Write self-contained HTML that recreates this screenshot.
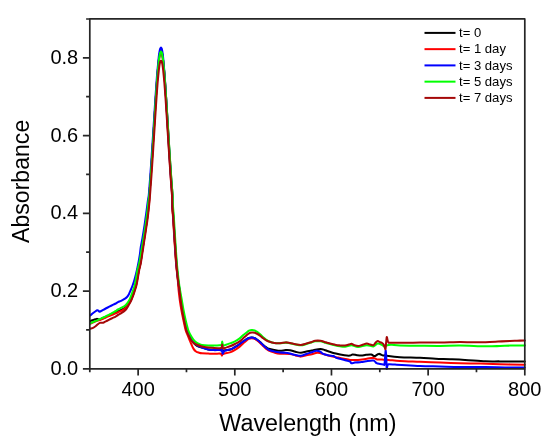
<!DOCTYPE html>
<html><head><meta charset="utf-8"><style>html,body{margin:0;padding:0;background:#fff;width:550px;height:444px;overflow:hidden}svg{display:block}</style></head>
<body><svg width="550" height="444" viewBox="0 0 550 444">
<rect width="550" height="444" fill="#fff"/>
<path d="M90.30,320.90 C90.83,320.73 92.43,320.23 93.50,319.90 C94.57,319.57 95.65,318.98 96.70,318.90 C97.75,318.82 98.62,319.58 99.80,319.40 C100.98,319.22 102.48,318.38 103.80,317.80 C105.12,317.22 106.40,316.53 107.70,315.90 C109.00,315.27 110.28,314.62 111.60,314.00 C112.92,313.38 114.28,312.77 115.60,312.20 C116.92,311.63 118.32,311.10 119.50,310.60 C120.68,310.10 121.62,309.80 122.70,309.20 C123.78,308.60 125.02,307.93 126.00,307.00 C126.98,306.07 127.77,304.83 128.60,303.60 C129.43,302.37 130.27,301.10 131.00,299.60 C131.73,298.10 132.40,296.27 133.00,294.60 C133.60,292.93 134.08,291.27 134.60,289.60 C135.12,287.93 135.62,286.67 136.10,284.60 C136.58,282.53 137.05,279.63 137.50,277.20 C137.95,274.77 138.28,272.53 138.80,270.00 C139.32,267.47 139.93,265.83 140.60,262.00 C141.27,258.17 142.05,252.00 142.80,247.00 C143.55,242.00 144.42,236.50 145.10,232.00 C145.78,227.50 146.40,223.67 146.90,220.00 C147.40,216.33 147.73,213.33 148.10,210.00 C148.47,206.67 148.89,202.50 149.10,200.00 C149.31,197.50 149.18,197.50 149.35,195.00 C149.52,192.50 149.87,188.33 150.12,185.00 C150.37,181.67 150.61,178.33 150.84,175.00 C151.08,171.67 151.26,169.17 151.54,165.00 C151.82,160.83 152.21,155.00 152.53,150.00 C152.85,145.00 153.17,140.00 153.48,135.00 C153.80,130.00 154.14,124.50 154.42,120.00 C154.70,115.50 154.93,111.83 155.17,108.00 C155.42,104.17 155.67,100.33 155.89,97.00 C156.11,93.67 156.30,90.83 156.50,88.00 C156.70,85.17 156.89,82.50 157.08,80.00 C157.27,77.50 157.35,76.13 157.63,73.00 C157.91,69.87 158.49,63.83 158.77,61.20 C159.04,58.57 159.11,58.37 159.28,57.20 C159.45,56.03 159.63,55.00 159.79,54.20 C159.95,53.40 160.04,52.90 160.24,52.40 C160.44,51.90 160.75,51.20 161.00,51.20 C161.25,51.20 161.55,51.90 161.75,52.40 C161.95,52.90 162.03,53.40 162.19,54.20 C162.35,55.00 162.52,56.03 162.69,57.20 C162.86,58.37 162.93,58.57 163.20,61.20 C163.47,63.83 164.04,69.87 164.31,73.00 C164.59,76.13 164.67,77.50 164.86,80.00 C165.04,82.50 165.23,85.17 165.43,88.00 C165.62,90.83 165.81,93.67 166.03,97.00 C166.24,100.33 166.49,104.17 166.73,108.00 C166.97,111.83 167.19,115.50 167.47,120.00 C167.75,124.50 168.08,130.00 168.39,135.00 C168.70,140.00 169.01,145.00 169.33,150.00 C169.65,155.00 170.03,160.83 170.30,165.00 C170.58,169.17 170.75,171.67 170.98,175.00 C171.22,178.33 171.45,181.67 171.70,185.00 C171.94,188.33 172.36,191.67 172.46,195.00 C172.56,198.33 172.16,201.17 172.30,205.00 C172.44,208.83 172.98,213.33 173.30,218.00 C173.62,222.67 173.87,227.67 174.20,233.00 C174.53,238.33 174.92,244.50 175.30,250.00 C175.68,255.50 176.05,261.00 176.50,266.00 C176.95,271.00 177.52,276.00 178.00,280.00 C178.48,284.00 178.95,286.67 179.40,290.00 C179.85,293.33 180.23,296.67 180.70,300.00 C181.17,303.33 181.62,306.67 182.20,310.00 C182.78,313.33 183.48,316.67 184.20,320.00 C184.92,323.33 185.75,327.50 186.50,330.00 C187.25,332.50 187.90,333.33 188.70,335.00 C189.50,336.67 190.42,338.62 191.30,340.00 C192.18,341.38 193.05,342.33 194.00,343.30 C194.95,344.27 195.67,345.08 197.00,345.80 C198.33,346.52 200.13,347.00 202.00,347.60 C203.87,348.20 206.20,349.00 208.20,349.40 C210.20,349.80 212.13,349.92 214.00,350.00 C215.87,350.08 218.15,349.87 219.40,349.90 C220.65,349.93 221.05,350.43 221.50,350.20 C221.95,349.97 221.92,348.28 222.10,348.50 C222.28,348.72 222.38,350.95 222.60,351.50 C222.82,352.05 223.00,352.00 223.40,351.80 C223.80,351.60 223.78,350.70 225.00,350.30 C226.22,349.90 229.03,349.93 230.70,349.40 C232.37,348.87 233.50,347.98 235.00,347.10 C236.50,346.22 238.37,345.00 239.70,344.10 C241.03,343.20 241.90,342.48 243.00,341.70 C244.10,340.92 245.30,340.02 246.30,339.40 C247.30,338.78 248.07,338.30 249.00,338.00 C249.93,337.70 250.95,337.55 251.90,337.60 C252.85,337.65 253.77,337.88 254.70,338.30 C255.63,338.72 256.55,339.42 257.50,340.10 C258.45,340.78 259.45,341.58 260.40,342.40 C261.35,343.22 262.27,344.20 263.20,345.00 C264.13,345.80 265.07,346.57 266.00,347.20 C266.93,347.83 267.40,348.33 268.80,348.80 C270.20,349.27 272.53,349.67 274.40,350.00 C276.27,350.33 278.12,350.78 280.00,350.80 C281.88,350.82 284.03,350.18 285.70,350.10 C287.37,350.02 288.37,350.02 290.00,350.30 C291.63,350.58 293.68,351.38 295.50,351.80 C297.32,352.22 299.08,352.83 300.90,352.80 C302.72,352.77 304.58,351.97 306.40,351.60 C308.22,351.23 310.35,350.92 311.80,350.60 C313.25,350.28 313.65,349.97 315.10,349.70 C316.55,349.43 318.93,348.97 320.50,349.00 C322.07,349.03 323.22,349.53 324.50,349.90 C325.78,350.27 326.32,350.58 328.20,351.20 C330.08,351.82 333.08,352.92 335.80,353.60 C338.52,354.28 342.13,354.97 344.50,355.30 C346.87,355.63 348.65,355.73 350.00,355.60 C351.35,355.47 351.43,354.57 352.60,354.50 C353.77,354.43 355.53,355.03 357.00,355.20 C358.47,355.37 359.90,355.57 361.40,355.50 C362.90,355.43 364.37,354.97 366.00,354.80 C367.63,354.63 369.78,354.28 371.20,354.50 C372.62,354.72 373.23,356.20 374.50,356.10 C375.77,356.00 377.35,354.00 378.80,353.90 C380.25,353.80 382.00,355.28 383.20,355.50 C384.40,355.72 385.10,355.10 386.00,355.20 C386.90,355.30 386.27,355.77 388.60,356.10 C390.93,356.43 394.77,356.92 400.00,357.20 C405.23,357.48 414.08,357.55 420.00,357.80 C425.92,358.05 430.50,358.47 435.50,358.70 C440.50,358.93 445.08,359.00 450.00,359.20 C454.92,359.40 459.08,359.55 465.00,359.90 C470.92,360.25 479.67,361.05 485.50,361.30 C491.33,361.55 493.45,361.37 500.00,361.40 C506.55,361.43 520.67,361.48 524.80,361.50" fill="none" stroke="#000000" stroke-width="2.05" stroke-linejoin="round" stroke-linecap="round"/>
<path d="M90.30,323.60 C90.83,323.38 92.47,322.73 93.50,322.30 C94.53,321.87 95.45,321.37 96.50,321.00 C97.55,320.63 98.58,320.53 99.80,320.10 C101.02,319.67 102.48,318.98 103.80,318.40 C105.12,317.82 106.40,317.17 107.70,316.60 C109.00,316.03 110.28,315.53 111.60,315.00 C112.92,314.47 114.28,313.97 115.60,313.40 C116.92,312.83 118.32,312.13 119.50,311.60 C120.68,311.07 121.62,310.83 122.70,310.20 C123.78,309.57 125.02,308.80 126.00,307.80 C126.98,306.80 127.77,305.50 128.60,304.20 C129.43,302.90 130.27,301.53 131.00,300.00 C131.73,298.47 132.40,296.67 133.00,295.00 C133.60,293.33 134.08,291.67 134.60,290.00 C135.12,288.33 135.62,287.08 136.10,285.00 C136.58,282.92 137.05,280.00 137.50,277.50 C137.95,275.00 138.28,272.58 138.80,270.00 C139.32,267.42 139.92,265.83 140.60,262.00 C141.28,258.17 142.13,252.00 142.90,247.00 C143.67,242.00 144.52,236.50 145.20,232.00 C145.88,227.50 146.48,223.67 147.00,220.00 C147.52,216.33 147.92,213.33 148.30,210.00 C148.68,206.67 149.13,202.50 149.30,200.00 C149.47,197.50 149.21,197.50 149.35,195.00 C149.48,192.50 149.87,188.33 150.12,185.00 C150.37,181.67 150.61,178.33 150.84,175.00 C151.08,171.67 151.26,169.17 151.54,165.00 C151.82,160.83 152.21,155.00 152.53,150.00 C152.85,145.00 153.17,140.00 153.48,135.00 C153.80,130.00 154.14,124.50 154.42,120.00 C154.70,115.50 154.93,111.83 155.17,108.00 C155.42,104.17 155.67,100.33 155.89,97.00 C156.11,93.67 156.30,90.83 156.50,88.00 C156.70,85.17 156.89,82.50 157.08,80.00 C157.27,77.50 157.35,76.13 157.63,73.00 C157.91,69.87 158.49,63.83 158.77,61.20 C159.04,58.57 159.11,58.37 159.28,57.20 C159.45,56.03 159.63,55.00 159.79,54.20 C159.95,53.40 160.04,52.90 160.24,52.40 C160.44,51.90 160.75,51.20 161.00,51.20 C161.25,51.20 161.55,51.90 161.75,52.40 C161.95,52.90 162.03,53.40 162.19,54.20 C162.34,55.00 162.52,56.03 162.68,57.20 C162.85,58.37 162.92,58.57 163.18,61.20 C163.45,63.83 164.00,69.87 164.27,73.00 C164.54,76.13 164.61,77.50 164.79,80.00 C164.97,82.50 165.15,85.17 165.34,88.00 C165.53,90.83 165.71,93.67 165.92,97.00 C166.12,100.33 166.36,104.17 166.59,108.00 C166.82,111.83 167.03,115.50 167.29,120.00 C167.56,124.50 167.88,130.00 168.17,135.00 C168.47,140.00 168.76,145.00 169.07,150.00 C169.37,155.00 169.74,160.83 170.00,165.00 C170.26,169.17 170.43,171.67 170.65,175.00 C170.88,178.33 171.11,181.67 171.34,185.00 C171.58,188.33 171.94,191.67 172.07,195.00 C172.20,198.33 171.93,201.17 172.10,205.00 C172.27,208.83 172.78,213.33 173.10,218.00 C173.42,222.67 173.67,227.67 174.00,233.00 C174.33,238.33 174.72,244.50 175.10,250.00 C175.48,255.50 175.85,261.00 176.30,266.00 C176.75,271.00 177.42,276.00 177.80,280.00 C178.18,284.00 178.27,286.67 178.60,290.00 C178.93,293.33 179.33,296.67 179.80,300.00 C180.27,303.33 180.80,306.67 181.40,310.00 C182.00,313.33 182.70,316.67 183.40,320.00 C184.10,323.33 184.90,327.50 185.60,330.00 C186.30,332.50 186.93,333.33 187.60,335.00 C188.27,336.67 188.98,338.50 189.60,340.00 C190.22,341.50 190.63,342.52 191.30,344.00 C191.97,345.48 192.82,347.65 193.60,348.90 C194.38,350.15 195.10,350.87 196.00,351.50 C196.90,352.13 198.00,352.40 199.00,352.70 C200.00,353.00 200.47,353.15 202.00,353.30 C203.53,353.45 206.20,353.52 208.20,353.60 C210.20,353.68 212.13,353.80 214.00,353.80 C215.87,353.80 218.18,353.58 219.40,353.60 C220.62,353.62 220.88,353.57 221.30,353.90 C221.72,354.23 221.68,355.57 221.90,355.60 C222.12,355.63 222.25,354.42 222.60,354.10 C222.95,353.78 222.65,354.03 224.00,353.70 C225.35,353.37 228.87,352.73 230.70,352.10 C232.53,351.47 233.50,350.82 235.00,349.90 C236.50,348.98 238.37,347.65 239.70,346.60 C241.03,345.55 241.90,344.60 243.00,343.60 C244.10,342.60 245.30,341.40 246.30,340.60 C247.30,339.80 248.07,339.20 249.00,338.80 C249.93,338.40 250.95,338.18 251.90,338.20 C252.85,338.22 253.77,338.48 254.70,338.90 C255.63,339.32 256.55,339.98 257.50,340.70 C258.45,341.42 259.45,342.32 260.40,343.20 C261.35,344.08 262.27,345.10 263.20,346.00 C264.13,346.90 265.07,347.83 266.00,348.60 C266.93,349.37 267.40,349.93 268.80,350.60 C270.20,351.27 272.53,352.08 274.40,352.60 C276.27,353.12 277.40,353.47 280.00,353.70 C282.60,353.93 287.42,353.72 290.00,354.00 C292.58,354.28 293.68,354.97 295.50,355.40 C297.32,355.83 299.08,356.63 300.90,356.60 C302.72,356.57 304.58,355.60 306.40,355.20 C308.22,354.80 310.03,354.60 311.80,354.20 C313.57,353.80 315.55,352.97 317.00,352.80 C318.45,352.63 318.63,352.75 320.50,353.20 C322.37,353.65 325.65,354.83 328.20,355.50 C330.75,356.17 333.83,356.80 335.80,357.20 C337.77,357.60 338.47,357.60 340.00,357.90 C341.53,358.20 343.33,358.67 345.00,359.00 C346.67,359.33 348.55,359.72 350.00,359.90 C351.45,360.08 352.37,360.08 353.70,360.10 C355.03,360.12 355.82,360.22 358.00,360.00 C360.18,359.78 364.23,359.15 366.80,358.80 C369.37,358.45 371.70,357.80 373.40,357.90 C375.10,358.00 375.57,359.12 377.00,359.40 C378.43,359.68 380.07,359.52 382.00,359.60 C383.93,359.68 385.60,359.67 388.60,359.90 C391.60,360.13 394.77,360.68 400.00,361.00 C405.23,361.32 413.33,361.53 420.00,361.80 C426.67,362.07 433.33,362.37 440.00,362.60 C446.67,362.83 453.33,363.03 460.00,363.20 C466.67,363.37 473.33,363.43 480.00,363.60 C486.67,363.77 492.53,364.02 500.00,364.20 C507.47,364.38 520.67,364.62 524.80,364.70" fill="none" stroke="#ff0000" stroke-width="2.05" stroke-linejoin="round" stroke-linecap="round"/>
<path d="M90.30,315.40 C90.83,314.97 92.47,313.60 93.50,312.80 C94.53,312.00 95.83,311.03 96.50,310.60 C97.17,310.17 97.15,310.15 97.50,310.20 C97.85,310.25 98.22,310.63 98.60,310.90 C98.98,311.17 98.93,312.02 99.80,311.80 C100.67,311.58 102.48,310.32 103.80,309.60 C105.12,308.88 106.40,308.18 107.70,307.50 C109.00,306.82 110.28,306.17 111.60,305.50 C112.92,304.83 114.53,304.07 115.60,303.50 C116.67,302.93 117.08,302.55 118.00,302.10 C118.92,301.65 120.02,301.33 121.10,300.80 C122.18,300.27 123.52,299.53 124.50,298.90 C125.48,298.27 126.27,297.78 127.00,297.00 C127.73,296.22 128.30,295.30 128.90,294.20 C129.50,293.10 130.02,291.77 130.60,290.40 C131.18,289.03 131.77,287.73 132.40,286.00 C133.03,284.27 133.78,282.07 134.40,280.00 C135.02,277.93 135.58,275.68 136.10,273.60 C136.62,271.52 137.08,269.43 137.50,267.50 C137.92,265.57 138.22,264.08 138.60,262.00 C138.98,259.92 139.43,257.50 139.80,255.00 C140.17,252.50 140.40,249.58 140.80,247.00 C141.20,244.42 141.75,242.00 142.20,239.50 C142.65,237.00 142.98,235.25 143.50,232.00 C144.02,228.75 144.77,223.67 145.30,220.00 C145.83,216.33 146.25,213.33 146.70,210.00 C147.15,206.67 147.65,202.50 148.00,200.00 C148.35,197.50 148.54,197.50 148.80,195.00 C149.07,192.50 149.34,188.33 149.60,185.00 C149.86,181.67 150.10,178.33 150.35,175.00 C150.59,171.67 150.77,169.17 151.06,165.00 C151.35,160.83 151.75,155.00 152.08,150.00 C152.42,145.00 152.74,140.00 153.06,135.00 C153.38,130.00 153.73,124.50 154.02,120.00 C154.31,115.50 154.54,111.83 154.79,108.00 C155.03,104.17 155.28,100.33 155.50,97.00 C155.73,93.67 155.92,90.83 156.12,88.00 C156.32,85.17 156.51,82.50 156.69,80.00 C156.88,77.50 156.90,76.75 157.23,73.00 C157.57,69.25 158.37,60.75 158.71,57.50 C159.04,54.25 159.06,54.67 159.24,53.50 C159.41,52.33 159.59,51.30 159.76,50.50 C159.92,49.70 160.01,49.20 160.22,48.70 C160.42,48.20 160.75,47.50 161.00,47.50 C161.25,47.50 161.53,48.20 161.72,48.70 C161.91,49.20 161.99,49.70 162.14,50.50 C162.29,51.30 162.46,52.33 162.62,53.50 C162.78,54.67 162.80,54.25 163.11,57.50 C163.41,60.75 164.15,69.25 164.46,73.00 C164.77,76.75 164.79,77.50 164.96,80.00 C165.13,82.50 165.30,85.17 165.49,88.00 C165.67,90.83 165.84,93.67 166.05,97.00 C166.25,100.33 166.48,104.17 166.71,108.00 C166.94,111.83 167.15,115.50 167.41,120.00 C167.68,124.50 168.00,130.00 168.29,135.00 C168.59,140.00 168.89,145.00 169.19,150.00 C169.50,155.00 169.86,160.83 170.13,165.00 C170.40,169.17 170.56,171.67 170.79,175.00 C171.01,178.33 171.24,181.67 171.48,185.00 C171.71,188.33 172.03,191.67 172.21,195.00 C172.38,198.33 172.28,201.17 172.50,205.00 C172.72,208.83 173.18,213.33 173.50,218.00 C173.82,222.67 174.07,227.67 174.40,233.00 C174.73,238.33 175.12,244.50 175.50,250.00 C175.88,255.50 176.25,261.00 176.70,266.00 C177.15,271.00 177.72,276.00 178.20,280.00 C178.68,284.00 179.15,286.67 179.60,290.00 C180.05,293.33 180.42,296.67 180.90,300.00 C181.38,303.33 181.88,306.67 182.50,310.00 C183.12,313.33 183.82,316.67 184.60,320.00 C185.38,323.33 186.38,327.50 187.20,330.00 C188.02,332.50 188.65,333.33 189.50,335.00 C190.35,336.67 191.38,338.63 192.30,340.00 C193.22,341.37 194.05,342.23 195.00,343.20 C195.95,344.17 196.83,345.08 198.00,345.80 C199.17,346.52 200.30,346.90 202.00,347.50 C203.70,348.10 206.20,348.97 208.20,349.40 C210.20,349.83 212.13,350.00 214.00,350.10 C215.87,350.20 218.15,349.92 219.40,350.00 C220.65,350.08 221.07,350.83 221.50,350.60 C221.93,350.37 221.83,348.15 222.00,348.60 C222.17,349.05 222.30,352.57 222.50,353.30 C222.70,354.03 222.87,353.40 223.20,353.00 C223.53,352.60 223.25,351.52 224.50,350.90 C225.75,350.28 228.95,349.95 230.70,349.30 C232.45,348.65 233.50,347.88 235.00,347.00 C236.50,346.12 238.37,344.90 239.70,344.00 C241.03,343.10 241.90,342.38 243.00,341.60 C244.10,340.82 245.30,339.92 246.30,339.30 C247.30,338.68 248.07,338.20 249.00,337.90 C249.93,337.60 250.95,337.45 251.90,337.50 C252.85,337.55 253.77,337.78 254.70,338.20 C255.63,338.62 256.55,339.30 257.50,340.00 C258.45,340.70 259.45,341.53 260.40,342.40 C261.35,343.27 262.27,344.32 263.20,345.20 C264.13,346.08 265.07,346.95 266.00,347.70 C266.93,348.45 267.40,349.07 268.80,349.70 C270.20,350.33 272.53,351.05 274.40,351.50 C276.27,351.95 278.12,352.18 280.00,352.40 C281.88,352.62 284.03,352.60 285.70,352.80 C287.37,353.00 288.37,353.23 290.00,353.60 C291.63,353.97 293.68,354.63 295.50,355.00 C297.32,355.37 299.08,355.98 300.90,355.80 C302.72,355.62 304.58,354.48 306.40,353.90 C308.22,353.32 310.35,352.80 311.80,352.30 C313.25,351.80 313.82,351.08 315.10,350.90 C316.38,350.72 318.23,350.75 319.50,351.20 C320.77,351.65 321.28,352.92 322.70,353.60 C324.12,354.28 326.18,354.88 328.00,355.30 C329.82,355.72 332.30,355.72 333.60,356.10 C334.90,356.48 334.73,357.15 335.80,357.60 C336.87,358.05 338.55,358.40 340.00,358.80 C341.45,359.20 342.83,359.55 344.50,360.00 C346.17,360.45 348.83,360.97 350.00,361.50 C351.17,362.03 350.67,363.02 351.50,363.20 C352.33,363.38 353.35,362.78 355.00,362.60 C356.65,362.42 359.57,362.33 361.40,362.10 C363.23,361.87 364.00,361.47 366.00,361.20 C368.00,360.93 371.63,360.17 373.40,360.50 C375.17,360.83 375.50,362.62 376.60,363.20 C377.70,363.78 378.90,363.78 380.00,364.00 C381.10,364.22 382.45,364.45 383.20,364.50 C383.95,364.55 384.17,365.72 384.50,364.30 C384.83,362.88 385.00,358.28 385.20,356.00 C385.40,353.72 385.52,350.27 385.70,350.60 C385.88,350.93 386.13,355.00 386.30,358.00 C386.47,361.00 386.53,367.27 386.70,368.60 C386.87,369.93 386.98,366.72 387.30,366.00 C387.62,365.28 387.32,364.53 388.60,364.30 C389.88,364.07 392.80,364.48 395.00,364.60 C397.20,364.72 397.63,364.77 401.80,365.00 C405.97,365.23 413.63,365.75 420.00,366.00 C426.37,366.25 433.33,366.33 440.00,366.50 C446.67,366.67 452.42,366.92 460.00,367.00 C467.58,367.08 478.00,366.93 485.50,367.00 C493.00,367.07 498.45,367.30 505.00,367.40 C511.55,367.50 521.50,367.57 524.80,367.60" fill="none" stroke="#0000ff" stroke-width="2.05" stroke-linejoin="round" stroke-linecap="round"/>
<path d="M90.30,323.30 C90.75,323.08 92.07,322.40 93.00,322.00 C93.93,321.60 94.77,321.38 95.90,320.90 C97.03,320.42 98.48,319.70 99.80,319.10 C101.12,318.50 102.48,317.93 103.80,317.30 C105.12,316.67 106.40,315.95 107.70,315.30 C109.00,314.65 110.28,314.12 111.60,313.40 C112.92,312.68 114.53,311.65 115.60,311.00 C116.67,310.35 117.08,310.02 118.00,309.50 C118.92,308.98 120.00,308.48 121.10,307.90 C122.20,307.32 123.58,306.77 124.60,306.00 C125.62,305.23 126.40,304.30 127.20,303.30 C128.00,302.30 128.70,301.38 129.40,300.00 C130.10,298.62 130.77,296.67 131.40,295.00 C132.03,293.33 132.63,291.67 133.20,290.00 C133.77,288.33 134.30,287.08 134.80,285.00 C135.30,282.92 135.75,280.00 136.20,277.50 C136.65,275.00 136.95,272.58 137.50,270.00 C138.05,267.42 138.75,265.83 139.50,262.00 C140.25,258.17 141.17,252.00 142.00,247.00 C142.83,242.00 143.80,236.50 144.50,232.00 C145.20,227.50 145.70,223.67 146.20,220.00 C146.70,216.33 147.10,213.33 147.50,210.00 C147.90,206.67 148.29,202.50 148.60,200.00 C148.91,197.50 149.10,197.50 149.36,195.00 C149.61,192.50 149.88,188.33 150.13,185.00 C150.38,181.67 150.62,178.33 150.85,175.00 C151.09,171.67 151.27,169.17 151.55,165.00 C151.83,160.83 152.21,155.00 152.54,150.00 C152.86,145.00 153.18,140.00 153.49,135.00 C153.81,130.00 154.15,124.50 154.43,120.00 C154.71,115.50 154.94,111.83 155.18,108.00 C155.43,104.17 155.68,100.33 155.90,97.00 C156.12,93.67 156.31,90.83 156.51,88.00 C156.71,85.17 156.90,82.50 157.09,80.00 C157.28,77.50 157.37,76.10 157.65,73.00 C157.93,69.90 158.49,64.00 158.77,61.40 C159.04,58.80 159.11,58.57 159.28,57.40 C159.45,56.23 159.63,55.20 159.79,54.40 C159.95,53.60 160.04,53.10 160.24,52.60 C160.44,52.10 160.75,51.40 161.00,51.40 C161.25,51.40 161.56,52.10 161.76,52.60 C161.96,53.10 162.04,53.60 162.20,54.40 C162.36,55.20 162.53,56.23 162.70,57.40 C162.87,58.57 162.95,58.80 163.22,61.40 C163.49,64.00 164.05,69.90 164.33,73.00 C164.60,76.10 164.69,77.50 164.88,80.00 C165.06,82.50 165.26,85.17 165.45,88.00 C165.65,90.83 165.84,93.67 166.06,97.00 C166.28,100.33 166.52,104.17 166.77,108.00 C167.01,111.83 167.24,115.50 167.52,120.00 C167.80,124.50 168.13,130.00 168.45,135.00 C168.76,140.00 169.07,145.00 169.39,150.00 C169.71,155.00 170.10,160.83 170.37,165.00 C170.65,169.17 170.83,171.67 171.06,175.00 C171.30,178.33 171.54,181.67 171.78,185.00 C172.03,188.33 172.36,191.67 172.55,195.00 C172.73,198.33 172.67,201.17 172.90,205.00 C173.13,208.83 173.58,213.33 173.90,218.00 C174.22,222.67 174.47,227.67 174.80,233.00 C175.13,238.33 175.52,244.50 175.90,250.00 C176.28,255.50 176.65,261.00 177.10,266.00 C177.55,271.00 178.12,276.00 178.60,280.00 C179.08,284.00 179.47,286.67 180.00,290.00 C180.53,293.33 181.22,296.67 181.80,300.00 C182.38,303.33 182.87,306.67 183.50,310.00 C184.13,313.33 184.82,316.67 185.60,320.00 C186.38,323.33 187.38,327.50 188.20,330.00 C189.02,332.50 189.60,333.33 190.50,335.00 C191.40,336.67 192.60,338.73 193.60,340.00 C194.60,341.27 195.48,341.88 196.50,342.60 C197.52,343.32 198.78,343.92 199.70,344.30 C200.62,344.68 200.58,344.72 202.00,344.90 C203.42,345.08 206.20,345.28 208.20,345.40 C210.20,345.52 212.13,345.62 214.00,345.60 C215.87,345.58 218.13,345.47 219.40,345.30 C220.67,345.13 221.13,345.22 221.60,344.60 C222.07,343.98 222.00,341.60 222.20,341.60 C222.40,341.60 222.50,343.97 222.80,344.60 C223.10,345.23 222.68,345.65 224.00,345.40 C225.32,345.15 228.87,343.78 230.70,343.10 C232.53,342.42 233.50,342.08 235.00,341.30 C236.50,340.52 238.37,339.40 239.70,338.40 C241.03,337.40 241.90,336.25 243.00,335.30 C244.10,334.35 245.30,333.47 246.30,332.70 C247.30,331.93 248.07,331.15 249.00,330.70 C249.93,330.25 250.95,330.03 251.90,330.00 C252.85,329.97 253.77,330.13 254.70,330.50 C255.63,330.87 256.55,331.52 257.50,332.20 C258.45,332.88 259.45,333.77 260.40,334.60 C261.35,335.43 262.27,336.38 263.20,337.20 C264.13,338.02 265.07,338.83 266.00,339.50 C266.93,340.17 267.40,340.60 268.80,341.20 C270.20,341.80 272.53,342.75 274.40,343.10 C276.27,343.45 278.12,343.38 280.00,343.30 C281.88,343.22 284.03,342.60 285.70,342.60 C287.37,342.60 288.37,342.98 290.00,343.30 C291.63,343.62 293.68,344.17 295.50,344.50 C297.32,344.83 299.08,345.38 300.90,345.30 C302.72,345.22 304.58,344.50 306.40,344.00 C308.22,343.50 310.35,342.75 311.80,342.30 C313.25,341.85 313.65,341.47 315.10,341.30 C316.55,341.13 318.93,341.12 320.50,341.30 C322.07,341.48 323.22,342.03 324.50,342.40 C325.78,342.77 326.32,342.98 328.20,343.50 C330.08,344.02 333.83,345.03 335.80,345.50 C337.77,345.97 338.47,346.08 340.00,346.30 C341.53,346.52 343.08,346.97 345.00,346.80 C346.92,346.63 349.32,345.27 351.50,345.30 C353.68,345.33 355.55,347.02 358.10,347.00 C360.65,346.98 364.25,345.30 366.80,345.20 C369.35,345.10 371.58,346.68 373.40,346.40 C375.22,346.12 376.25,343.73 377.70,343.50 C379.15,343.27 380.97,344.50 382.10,345.00 C383.23,345.50 383.80,346.42 384.50,346.50 C385.20,346.58 385.62,345.77 386.30,345.50 C386.98,345.23 387.65,345.02 388.60,344.90 C389.55,344.78 390.10,344.68 392.00,344.80 C393.90,344.92 395.33,345.43 400.00,345.60 C404.67,345.77 413.33,345.75 420.00,345.80 C426.67,345.85 433.33,345.93 440.00,345.90 C446.67,345.87 452.42,345.53 460.00,345.60 C467.58,345.67 478.83,346.23 485.50,346.30 C492.17,346.37 495.92,346.12 500.00,346.00 C504.08,345.88 505.87,345.70 510.00,345.60 C514.13,345.50 522.33,345.43 524.80,345.40" fill="none" stroke="#00ff00" stroke-width="2.05" stroke-linejoin="round" stroke-linecap="round"/>
<path d="M90.30,328.80 C90.83,328.60 92.57,328.07 93.50,327.60 C94.43,327.13 95.18,326.55 95.90,326.00 C96.62,325.45 97.15,324.82 97.80,324.30 C98.45,323.78 99.13,323.15 99.80,322.90 C100.47,322.65 101.13,322.87 101.80,322.80 C102.47,322.73 102.82,322.88 103.80,322.50 C104.78,322.12 106.40,321.17 107.70,320.50 C109.00,319.83 110.28,319.15 111.60,318.50 C112.92,317.85 114.53,317.18 115.60,316.60 C116.67,316.02 117.18,315.50 118.00,315.00 C118.82,314.50 119.58,314.17 120.50,313.60 C121.42,313.03 122.53,312.37 123.50,311.60 C124.47,310.83 125.38,310.17 126.30,309.00 C127.22,307.83 128.15,306.10 129.00,304.60 C129.85,303.10 130.67,301.60 131.40,300.00 C132.13,298.40 132.80,296.67 133.40,295.00 C134.00,293.33 134.48,291.67 135.00,290.00 C135.52,288.33 136.02,287.08 136.50,285.00 C136.98,282.92 137.45,280.00 137.90,277.50 C138.35,275.00 138.68,272.58 139.20,270.00 C139.72,267.42 140.32,265.83 141.00,262.00 C141.68,258.17 142.53,252.00 143.30,247.00 C144.07,242.00 144.92,236.50 145.60,232.00 C146.28,227.50 146.90,223.67 147.40,220.00 C147.90,216.33 148.23,213.33 148.60,210.00 C148.97,206.67 149.36,202.50 149.60,200.00 C149.84,197.50 149.82,197.50 150.01,195.00 C150.21,192.50 150.52,188.33 150.76,185.00 C151.01,181.67 151.24,178.33 151.48,175.00 C151.71,171.67 151.88,169.17 152.16,165.00 C152.43,160.83 152.82,155.00 153.14,150.00 C153.46,145.00 153.77,140.00 154.09,135.00 C154.40,130.00 154.74,124.50 155.03,120.00 C155.32,115.50 155.55,111.83 155.80,108.00 C156.05,104.17 156.31,100.33 156.54,97.00 C156.78,93.67 156.98,90.83 157.20,88.00 C157.42,85.17 157.58,82.93 157.85,80.00 C158.11,77.07 158.54,72.67 158.79,70.40 C159.03,68.13 159.13,67.57 159.30,66.40 C159.47,65.23 159.64,64.20 159.80,63.40 C159.96,62.60 160.05,62.10 160.25,61.60 C160.44,61.10 160.75,60.40 161.00,60.40 C161.25,60.40 161.56,61.10 161.75,61.60 C161.95,62.10 162.04,62.60 162.20,63.40 C162.36,64.20 162.53,65.23 162.70,66.40 C162.87,67.57 162.97,68.13 163.21,70.40 C163.46,72.67 163.89,77.07 164.15,80.00 C164.42,82.93 164.58,85.17 164.80,88.00 C165.02,90.83 165.22,93.67 165.46,97.00 C165.69,100.33 165.95,104.17 166.20,108.00 C166.45,111.83 166.68,115.50 166.97,120.00 C167.26,124.50 167.60,130.00 167.91,135.00 C168.23,140.00 168.54,145.00 168.86,150.00 C169.18,155.00 169.57,160.83 169.84,165.00 C170.12,169.17 170.29,171.67 170.52,175.00 C170.76,178.33 170.99,181.67 171.24,185.00 C171.48,188.33 171.81,191.67 171.99,195.00 C172.17,198.33 172.08,201.17 172.30,205.00 C172.52,208.83 172.97,213.33 173.30,218.00 C173.63,222.67 173.95,227.67 174.30,233.00 C174.65,238.33 175.02,244.50 175.40,250.00 C175.78,255.50 176.17,261.00 176.60,266.00 C177.03,271.00 177.53,276.00 178.00,280.00 C178.47,284.00 178.97,286.67 179.40,290.00 C179.83,293.33 180.15,296.67 180.60,300.00 C181.05,303.33 181.53,306.67 182.10,310.00 C182.67,313.33 183.32,316.67 184.00,320.00 C184.68,323.33 185.48,327.50 186.20,330.00 C186.92,332.50 187.52,333.33 188.30,335.00 C189.08,336.67 189.95,338.62 190.90,340.00 C191.85,341.38 193.00,342.50 194.00,343.30 C195.00,344.10 195.57,344.25 196.90,344.80 C198.23,345.35 200.12,346.13 202.00,346.60 C203.88,347.07 206.20,347.35 208.20,347.60 C210.20,347.85 212.13,348.00 214.00,348.10 C215.87,348.20 218.13,348.28 219.40,348.20 C220.67,348.12 221.13,348.23 221.60,347.60 C222.07,346.97 222.00,344.40 222.20,344.40 C222.40,344.40 222.57,346.90 222.80,347.60 C223.03,348.30 223.23,348.53 223.60,348.60 C223.97,348.67 223.82,348.43 225.00,348.00 C226.18,347.57 229.03,346.67 230.70,346.00 C232.37,345.33 233.50,344.77 235.00,344.00 C236.50,343.23 238.37,342.32 239.70,341.40 C241.03,340.48 241.90,339.48 243.00,338.50 C244.10,337.52 245.30,336.37 246.30,335.50 C247.30,334.63 248.07,333.80 249.00,333.30 C249.93,332.80 250.95,332.60 251.90,332.50 C252.85,332.40 253.77,332.45 254.70,332.70 C255.63,332.95 256.55,333.45 257.50,334.00 C258.45,334.55 259.45,335.28 260.40,336.00 C261.35,336.72 262.27,337.60 263.20,338.30 C264.13,339.00 265.07,339.67 266.00,340.20 C266.93,340.73 267.40,341.03 268.80,341.50 C270.20,341.97 272.53,342.72 274.40,343.00 C276.27,343.28 278.12,343.30 280.00,343.20 C281.88,343.10 284.03,342.43 285.70,342.40 C287.37,342.37 288.37,342.70 290.00,343.00 C291.63,343.30 293.68,343.88 295.50,344.20 C297.32,344.52 299.08,345.00 300.90,344.90 C302.72,344.80 304.58,344.10 306.40,343.60 C308.22,343.10 310.35,342.37 311.80,341.90 C313.25,341.43 313.65,340.98 315.10,340.80 C316.55,340.62 318.93,340.62 320.50,340.80 C322.07,340.98 323.22,341.53 324.50,341.90 C325.78,342.27 326.32,342.50 328.20,343.00 C330.08,343.50 333.83,344.50 335.80,344.90 C337.77,345.30 338.47,345.30 340.00,345.40 C341.53,345.50 343.50,345.63 345.00,345.50 C346.50,345.37 347.92,344.88 349.00,344.60 C350.08,344.32 350.67,343.73 351.50,343.80 C352.33,343.87 352.90,344.63 354.00,345.00 C355.10,345.37 356.77,346.00 358.10,346.00 C359.43,346.00 360.55,345.42 362.00,345.00 C363.45,344.58 365.47,343.57 366.80,343.50 C368.13,343.43 368.90,344.32 370.00,344.60 C371.10,344.88 372.48,345.50 373.40,345.20 C374.32,344.90 374.78,343.48 375.50,342.80 C376.22,342.12 376.95,341.20 377.70,341.10 C378.45,341.00 379.27,341.88 380.00,342.20 C380.73,342.52 381.50,342.62 382.10,343.00 C382.70,343.38 383.15,343.75 383.60,344.50 C384.05,345.25 384.48,346.75 384.80,347.50 C385.12,348.25 385.27,349.92 385.50,349.00 C385.73,348.08 385.98,344.00 386.20,342.00 C386.42,340.00 386.57,337.25 386.80,337.00 C387.03,336.75 387.30,339.57 387.60,340.50 C387.90,341.43 388.20,342.23 388.60,342.60 C389.00,342.97 388.10,342.67 390.00,342.70 C391.90,342.73 395.00,342.82 400.00,342.80 C405.00,342.78 413.33,342.65 420.00,342.60 C426.67,342.55 433.33,342.60 440.00,342.50 C446.67,342.40 454.67,342.03 460.00,342.00 C465.33,341.97 467.75,342.27 472.00,342.30 C476.25,342.33 481.17,342.32 485.50,342.20 C489.83,342.08 493.92,341.82 498.00,341.60 C502.08,341.38 506.83,341.05 510.00,340.90 C513.17,340.75 514.53,340.77 517.00,340.70 C519.47,340.63 523.50,340.53 524.80,340.50" fill="none" stroke="#a50808" stroke-width="2.05" stroke-linejoin="round" stroke-linecap="round"/>
<path d="M89.8,368.84 L89.8,18.95 L524.8,18.95 L524.8,368.84 Z" fill="none" stroke="#262626" stroke-width="1.7" stroke-linejoin="round"/>
<path d="M89.80,368.84 L89.80,372.14 M138.13,368.84 L138.13,375.54 M186.47,368.84 L186.47,372.14 M234.80,368.84 L234.80,375.54 M283.13,368.84 L283.13,372.14 M331.47,368.84 L331.47,375.54 M379.80,368.84 L379.80,372.14 M428.13,368.84 L428.13,375.54 M476.47,368.84 L476.47,372.14 M524.80,368.84 L524.80,375.54 M89.8,368.84 L82.90,368.84 M89.8,329.97 L86.10,329.97 M89.8,291.09 L82.90,291.09 M89.8,252.22 L86.10,252.22 M89.8,213.34 L82.90,213.34 M89.8,174.47 L86.10,174.47 M89.8,135.60 L82.90,135.60 M89.8,96.72 L86.10,96.72 M89.8,57.85 L82.90,57.85 M89.8,18.98 L86.10,18.98" fill="none" stroke="#262626" stroke-width="1.7"/>
<text x="138.13" y="396.3" font-family="'Liberation Sans', Arial, sans-serif" font-size="20" text-anchor="middle" fill="#000">400</text>
<text x="234.80" y="396.3" font-family="'Liberation Sans', Arial, sans-serif" font-size="20" text-anchor="middle" fill="#000">500</text>
<text x="331.47" y="396.3" font-family="'Liberation Sans', Arial, sans-serif" font-size="20" text-anchor="middle" fill="#000">600</text>
<text x="428.13" y="396.3" font-family="'Liberation Sans', Arial, sans-serif" font-size="20" text-anchor="middle" fill="#000">700</text>
<text x="524.80" y="396.3" font-family="'Liberation Sans', Arial, sans-serif" font-size="20" text-anchor="middle" fill="#000">800</text>
<text x="78.2" y="374.84" font-family="'Liberation Sans', Arial, sans-serif" font-size="20" text-anchor="end" fill="#000">0.0</text>
<text x="78.2" y="297.09" font-family="'Liberation Sans', Arial, sans-serif" font-size="20" text-anchor="end" fill="#000">0.2</text>
<text x="78.2" y="219.34" font-family="'Liberation Sans', Arial, sans-serif" font-size="20" text-anchor="end" fill="#000">0.4</text>
<text x="78.2" y="141.60" font-family="'Liberation Sans', Arial, sans-serif" font-size="20" text-anchor="end" fill="#000">0.6</text>
<text x="78.2" y="63.85" font-family="'Liberation Sans', Arial, sans-serif" font-size="20" text-anchor="end" fill="#000">0.8</text>
<text x="219.3" y="431.3" font-family="'Liberation Sans', Arial, sans-serif" font-size="23.3" word-spacing="0.6" fill="#000">Wavelength (nm)</text>
<text transform="translate(29.4,243.0) rotate(-90)" font-family="'Liberation Sans', Arial, sans-serif" font-size="23.1" fill="#000">Absorbance</text>
<line x1="424.5" y1="32.90" x2="455.5" y2="32.90" stroke="#000000" stroke-width="2.0"/>
<text x="459.0" y="37.20" font-family="'Liberation Sans', Arial, sans-serif" font-size="13.1" fill="#000">t= 0</text>
<line x1="424.5" y1="49.15" x2="455.5" y2="49.15" stroke="#ff0000" stroke-width="2.0"/>
<text x="459.0" y="53.45" font-family="'Liberation Sans', Arial, sans-serif" font-size="13.1" fill="#000">t= 1 day</text>
<line x1="424.5" y1="65.40" x2="455.5" y2="65.40" stroke="#0000ff" stroke-width="2.0"/>
<text x="459.0" y="69.70" font-family="'Liberation Sans', Arial, sans-serif" font-size="13.1" fill="#000">t= 3 days</text>
<line x1="424.5" y1="81.65" x2="455.5" y2="81.65" stroke="#00ff00" stroke-width="2.0"/>
<text x="459.0" y="85.95" font-family="'Liberation Sans', Arial, sans-serif" font-size="13.1" fill="#000">t= 5 days</text>
<line x1="424.5" y1="97.90" x2="455.5" y2="97.90" stroke="#a50808" stroke-width="2.0"/>
<text x="459.0" y="102.20" font-family="'Liberation Sans', Arial, sans-serif" font-size="13.1" fill="#000">t= 7 days</text>
</svg></body></html>
